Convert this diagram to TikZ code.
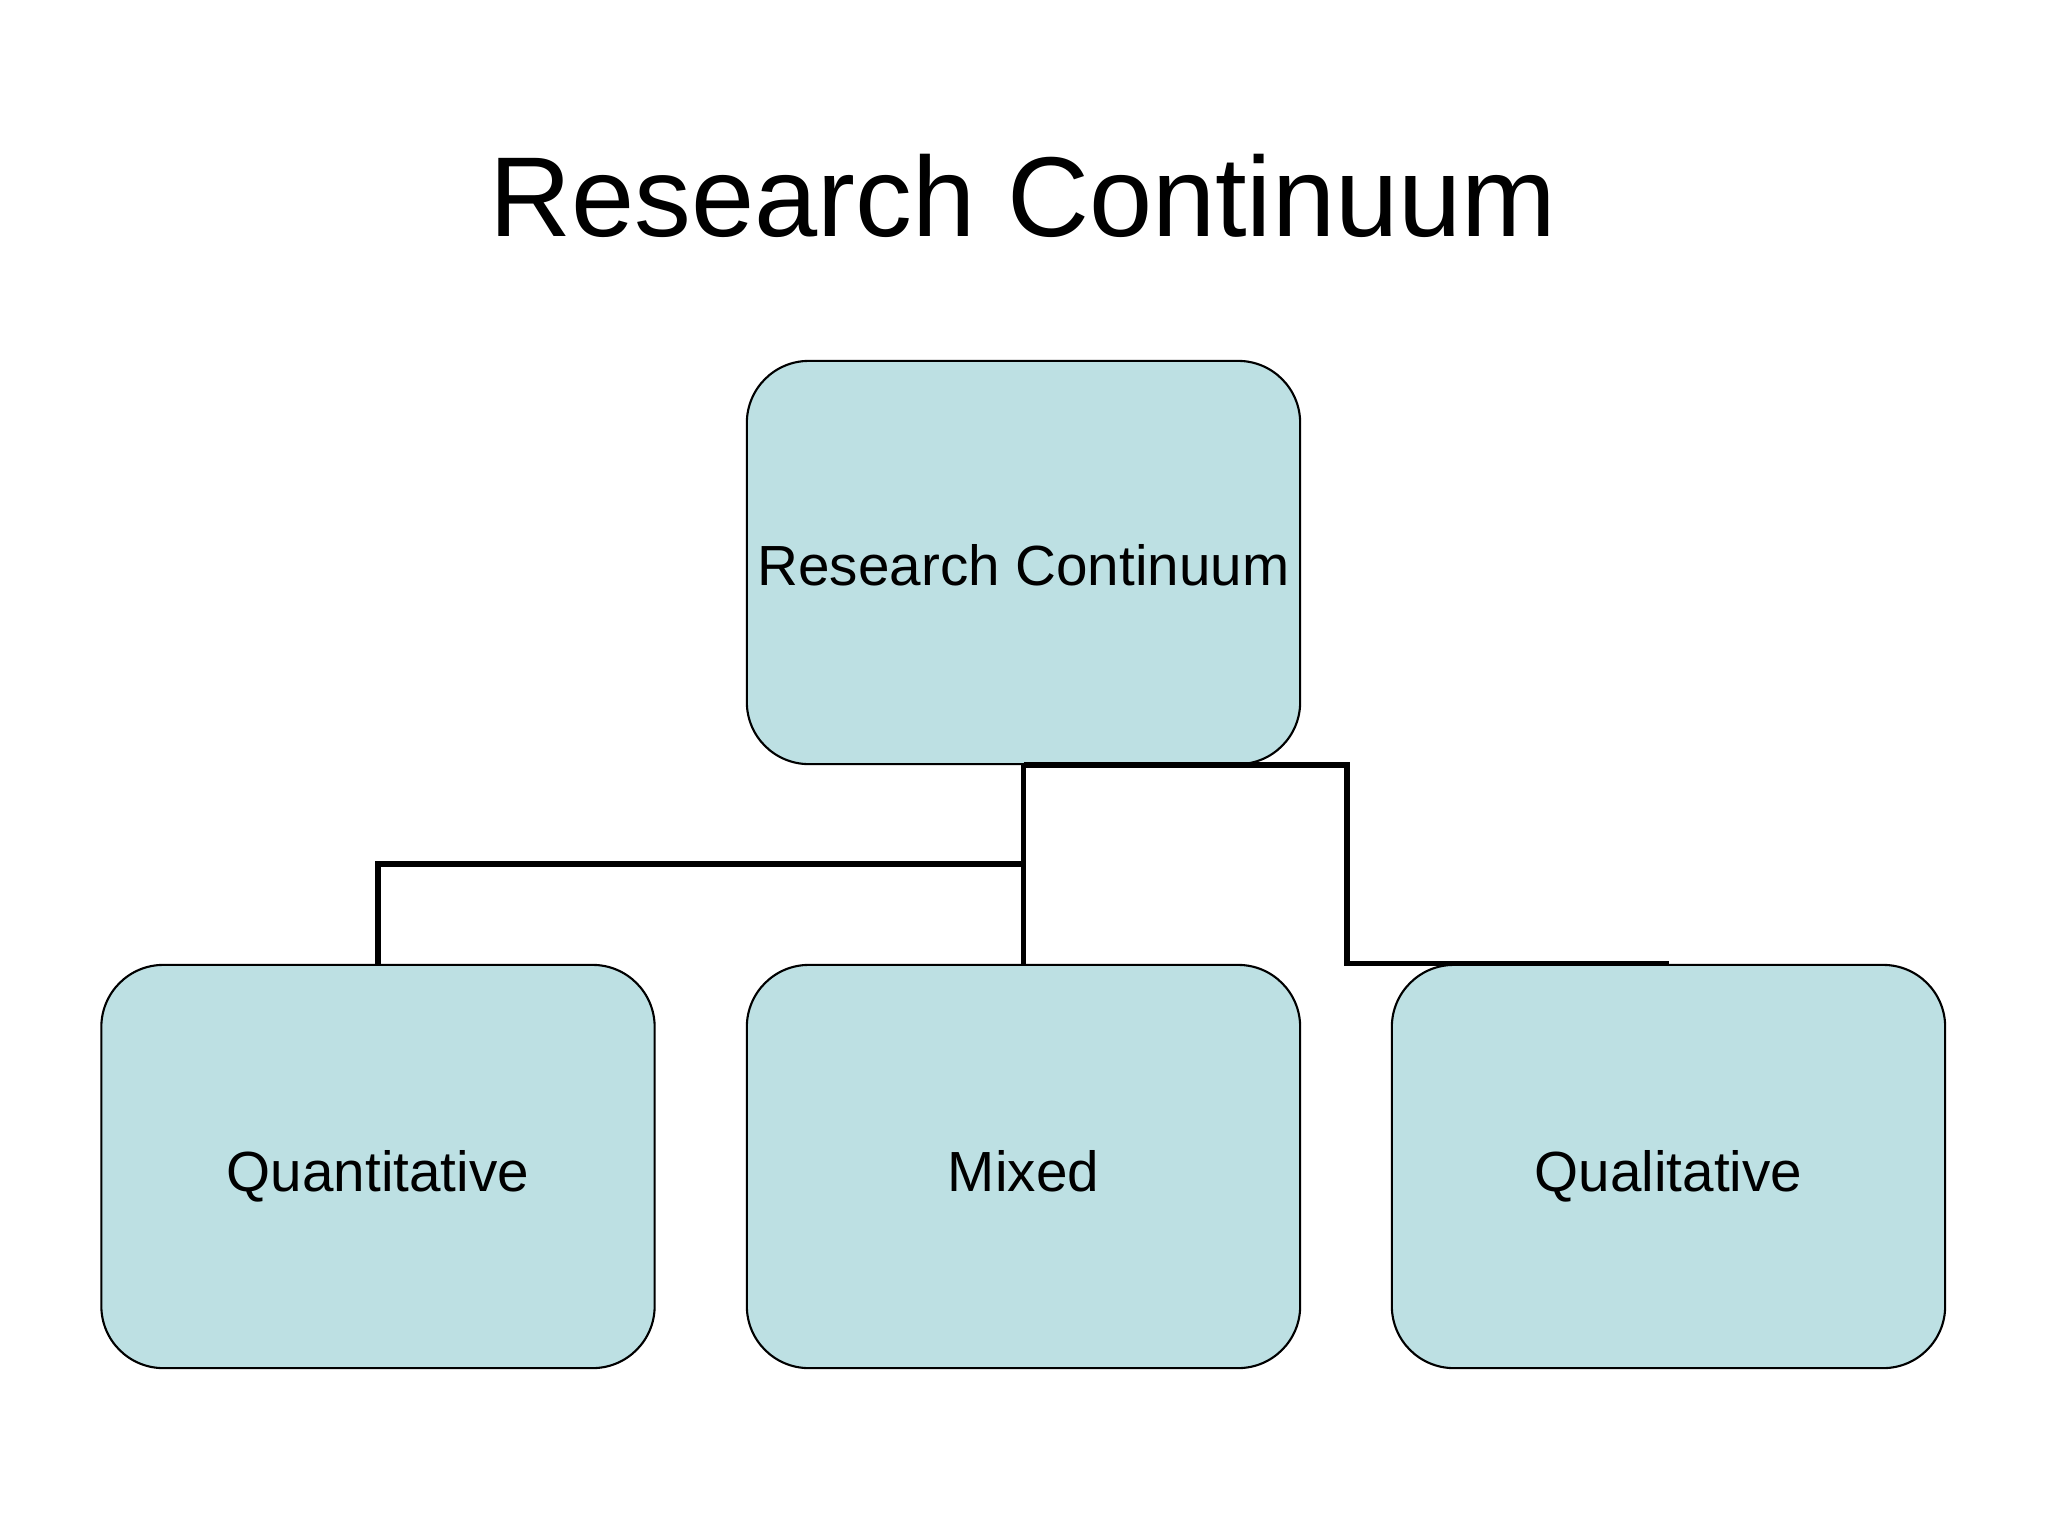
\documentclass[tikz,border=0pt]{standalone}
\usepackage{fontspec}
\setmainfont{Liberation Sans}
\definecolor{boxfill}{RGB}{189,224,227}
\begin{document}
\begin{tikzpicture}[x=0.01cm,y=-0.01cm,
  card/.style={draw=black,line width=0.6pt,fill=boxfill,rounded corners=0.62cm,
    minimum width=5.53cm,minimum height=4.03cm,inner sep=0pt,
    font=\fontsize{16.1}{20}\selectfont},
  cardtext/.style={inner sep=0pt,text height=11.5pt,text depth=0pt,
    font=\fontsize{16.1}{20}\selectfont},
  link/.style={draw=black,line width=1.5pt}]
\useasboundingbox (0,0) rectangle (2048,1536);
\fill[white] (0,0) rectangle (2048,1536);
\node[anchor=base,font=\fontsize{32.3}{38}\selectfont] (title) at (1023,236) {Research Continuum};
\node[card] (top) at (1023.5,562.5) {};
\node[card] (qt) at (378,1166.5) {};
\node[card] (mx) at (1023.5,1166.5) {};
\node[card] (ql) at (1668.5,1166.5) {};
\node[cardtext] (toplabel) at (1023.5,565.5) {Research Continuum};
\node[cardtext] (qtlabel) at (378,1171.5) {Quantitative};
\node[cardtext] (mxlabel) at (1023.5,1171.5) {Mixed};
\node[cardtext] (qllabel) at (1668.5,1171.5) {Qualitative};
\coordinate (jl) at (0,864);
\coordinate (jr) at (1347,765);
\path[link] (top.south) -- (top.south |- jl) -| (qt.north);
\path[link] (top.south) -- (mx.north);
\path[link] (top.south |- jr) -- (jr) |- (ql.north);
\end{tikzpicture}
\end{document}
